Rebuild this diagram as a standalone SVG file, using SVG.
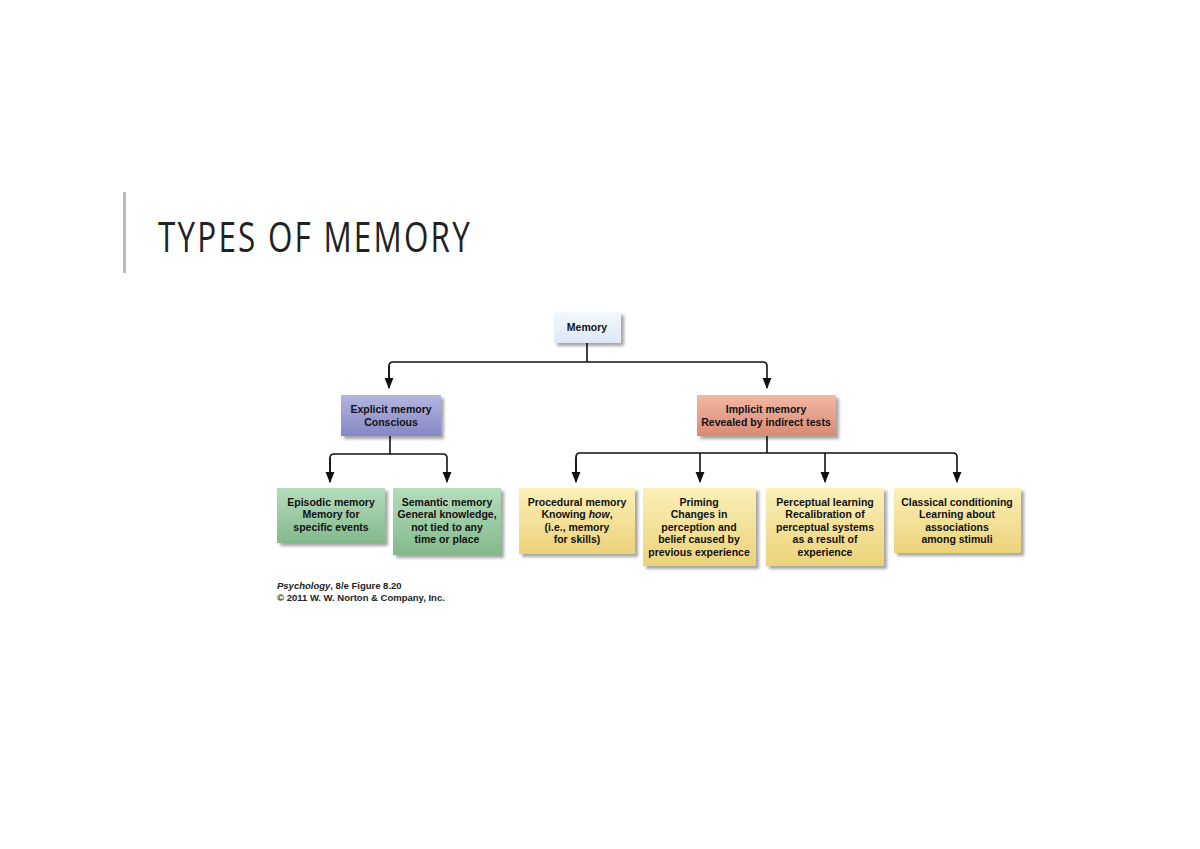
<svg xmlns="http://www.w3.org/2000/svg" width="1200" height="849" viewBox="0 0 1200 849">
<defs>
<linearGradient id="gb" x1="0" y1="0" x2="0" y2="1"><stop offset="0" stop-color="#f4f8fe"/><stop offset="1" stop-color="#dce8f8"/></linearGradient>
<linearGradient id="gp" x1="0" y1="0" x2="0" y2="1"><stop offset="0" stop-color="#b4b6e0"/><stop offset="1" stop-color="#8587c4"/></linearGradient>
<linearGradient id="gr" x1="0" y1="0" x2="0" y2="1"><stop offset="0" stop-color="#f2b8a4"/><stop offset="1" stop-color="#d98a74"/></linearGradient>
<linearGradient id="gg" x1="0" y1="0" x2="0" y2="1"><stop offset="0" stop-color="#b6dcbc"/><stop offset="1" stop-color="#82b98c"/></linearGradient>
<linearGradient id="gy" x1="0" y1="0" x2="0" y2="1"><stop offset="0" stop-color="#fbf0b8"/><stop offset="1" stop-color="#ecd27a"/></linearGradient>
<filter id="sh" x="-10%" y="-10%" width="130%" height="140%"><feDropShadow dx="3" dy="3" stdDeviation="1.5" flood-color="#000" flood-opacity="0.35"/></filter>
<marker id="ar" viewBox="0 0 10 10" refX="9" refY="5" markerWidth="7" markerHeight="7" orient="auto"><path d="M0,1 L10,5 L0,9 Z" fill="#111"/></marker>
</defs>
<style>
.t{font-family:"Liberation Sans",Arial,sans-serif;font-weight:bold;font-size:10.5px;fill:#111;text-anchor:middle}
.c{fill:none;stroke:#111;stroke-width:1.6}
.box{filter:url(#sh)}
</style>
<rect width="1200" height="849" fill="#fff"/>
<rect x="123" y="192" width="3" height="81" fill="#bbb"/>
<text x="158" y="252" font-family="'Open Sans','Liberation Sans',sans-serif" font-size="42" letter-spacing="3" fill="#222" textLength="314" lengthAdjust="spacingAndGlyphs">TYPES OF MEMORY</text>
<g id="connectors">
<path class="c" d="M587,343 V362"/>
<path class="c" d="M389,388 V366 Q389,362 393,362 H763 Q767,362 767,366 V388" marker-start="url(#ar)" marker-end="url(#ar)" style="marker-start:none"/>
<path class="c" d="M389,366 V388" marker-end="url(#ar)"/>
<path class="c" d="M390,436 V454"/>
<path class="c" d="M330,482 V458 Q330,454 334,454 H443 Q447,454 447,458 V482" marker-end="url(#ar)"/>
<path class="c" d="M330,458 V482" marker-end="url(#ar)"/>
<path class="c" d="M767,436 V453"/>
<path class="c" d="M576,482 V457 Q576,453 580,453 H953 Q957,453 957,457 V482" marker-end="url(#ar)"/>
<path class="c" d="M576,457 V482" marker-end="url(#ar)"/>
<path class="c" d="M700,453 V482" marker-end="url(#ar)"/>
<path class="c" d="M825,453 V482" marker-end="url(#ar)"/>
</g>
<g id="memory"><rect class="box" x="554" y="312" width="67" height="31" fill="url(#gb)"/><text class="t" x="587" y="331">Memory</text></g>
<g id="explicit"><rect class="box" x="341" y="395" width="100" height="41" fill="url(#gp)"/><text class="t" x="391" y="413">Explicit memory</text><text class="t" x="391" y="426">Conscious</text></g>
<g id="implicit"><rect class="box" x="697" y="395" width="139" height="41" fill="url(#gr)"/><text class="t" x="766" y="413">Implicit memory</text><text class="t" x="766" y="426">Revealed by indirect tests</text></g>
<g id="episodic"><rect class="box" x="277" y="488" width="108" height="55" fill="url(#gg)"/><text class="t" x="331" y="506">Episodic memory</text><text class="t" x="331" y="518">Memory for</text><text class="t" x="331" y="531">specific events</text></g>
<g id="semantic"><rect class="box" x="393" y="488" width="108" height="67" fill="url(#gg)"/><text class="t" x="447" y="506">Semantic memory</text><text class="t" x="447" y="518">General knowledge,</text><text class="t" x="447" y="531">not tied to any</text><text class="t" x="447" y="543">time or place</text></g>
<g id="procedural"><rect class="box" x="519" y="488" width="116" height="66" fill="url(#gy)"/><text class="t" x="577" y="506">Procedural memory</text><text class="t" x="577" y="518">Knowing <tspan font-style="italic">how</tspan>,</text><text class="t" x="577" y="531">(i.e., memory</text><text class="t" x="577" y="543">for skills)</text></g>
<g id="priming"><rect class="box" x="643" y="488" width="113" height="78" fill="url(#gy)"/><text class="t" x="699" y="506">Priming</text><text class="t" x="699" y="518">Changes in</text><text class="t" x="699" y="531">perception and</text><text class="t" x="699" y="543">belief caused by</text><text class="t" x="699" y="556">previous experience</text></g>
<g id="perceptual"><rect class="box" x="766" y="488" width="118" height="78" fill="url(#gy)"/><text class="t" x="825" y="506">Perceptual learning</text><text class="t" x="825" y="518">Recalibration of</text><text class="t" x="825" y="531">perceptual systems</text><text class="t" x="825" y="543">as a result of</text><text class="t" x="825" y="556">experience</text></g>
<g id="classical"><rect class="box" x="894" y="488" width="127" height="65" fill="url(#gy)"/><text class="t" x="957" y="506">Classical conditioning</text><text class="t" x="957" y="518">Learning about</text><text class="t" x="957" y="531">associations</text><text class="t" x="957" y="543">among stimuli</text></g>
<g id="caption" font-family="'Liberation Sans',Arial,sans-serif" font-weight="bold" font-size="9.5" fill="#222">
<text x="277" y="589"><tspan font-style="italic">Psychology</tspan>, 8/e  Figure 8.20</text>
<text x="277" y="601">© 2011 W. W. Norton &amp; Company, Inc.</text>
</g>
</svg>
